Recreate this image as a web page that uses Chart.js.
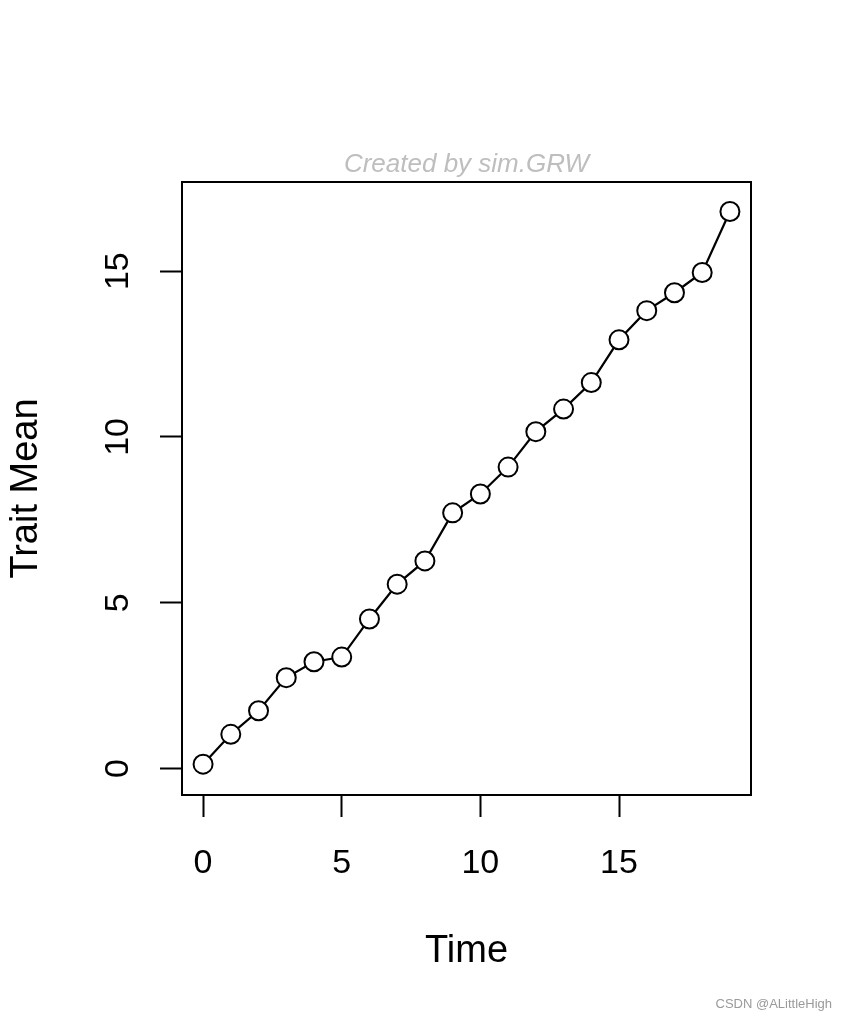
<!DOCTYPE html>
<html>
<head>
<meta charset="utf-8">
<script src="https://cdn.jsdelivr.net/npm/chart.js@4.4.0/dist/chart.umd.min.js"></script>
<style>
  html, body { margin: 0; padding: 0; background: #fff; }
  #wrap { width: 845px; height: 1022px; }
</style>
</head>
<body>
<div id="wrap"><canvas id="grwChart" width="845" height="1022"></canvas></div>
<script>
// time steps and simulated trait means
const timeSteps = [0, 1, 2, 3, 4, 5, 6, 7, 8, 9, 10, 11, 12, 13, 14, 15, 16, 17, 18, 19];
const traitMean = [0.13, 1.03, 1.74, 2.74, 3.22, 3.36, 4.51, 5.56, 6.26, 7.71,
                   8.28, 9.09, 10.16, 10.84, 11.64, 12.93, 13.81, 14.35, 14.96, 16.80];
const xTicks = [0, 5, 10, 15];
const yTicks = [0, 5, 10, 15];

const FONT = "'Liberation Sans', Arial, sans-serif";

// box around the plot, title over the box, rotated y labels (R style), watermark
const rBox = {
    id: 'rBox',
    afterDraw(chart) {
        const ctx = chart.ctx;
        const a = chart.chartArea;
        ctx.save();
        ctx.strokeStyle = '#000';
        ctx.lineWidth = 2;
        ctx.strokeRect(a.left, a.top, a.right - a.left, a.bottom - a.top);

        ctx.fillStyle = '#bebebe';
        ctx.font = 'italic 26px ' + FONT;
        ctx.textAlign = 'center';
        ctx.textBaseline = 'alphabetic';
        ctx.fillText('Created by sim.GRW', (a.left + a.right) / 2, 172);

        const ys = chart.scales.y;
        ctx.fillStyle = '#000';
        ctx.font = '34px ' + FONT;
        yTicks.forEach(function (v) {
            ctx.save();
            ctx.translate(128, ys.getPixelForValue(v));
            ctx.rotate(-Math.PI / 2);
            ctx.fillText(String(v), 0, 0);
            ctx.restore();
        });

        ctx.fillStyle = '#9a9a9a';
        ctx.font = '13px ' + FONT;
        ctx.textAlign = 'right';
        ctx.fillText('CSDN @ALittleHigh', 832, 1008);
        ctx.restore();
    }
};

var ctx = document.getElementById('grwChart').getContext('2d');
new Chart(ctx, {
    type: 'line',
    data: {
        datasets: [{
            data: timeSteps.map((t, i) => ({ x: t, y: traitMean[i] })),
            borderColor: '#000',
            borderWidth: 2.2,
            pointRadius: 9.5,
            pointBorderWidth: 2,
            pointBackgroundColor: '#fff',
            pointBorderColor: '#000',
            tension: 0
        }]
    },
    options: {
        responsive: false,
        animation: false,
        layout: { padding: { top: 182, right: 94, left: 0, bottom: 0 } },
        plugins: {
            legend: { display: false },
            tooltip: { enabled: false },
            title: { display: false }
        },
        scales: {
            x: {
                type: 'linear',
                min: -0.76,
                max: 19.76,
                afterFit: s => { s.height = 227; },
                afterBuildTicks: s => { s.ticks = xTicks.map(v => ({ value: v })); },
                grid: { drawOnChartArea: false, drawTicks: true, tickLength: 22, tickWidth: 2, tickColor: '#000' },
                border: { display: false },
                ticks: { color: '#000', padding: 26, font: { family: FONT, size: 34 }, maxRotation: 0 },
                title: {
                    display: true,
                    text: 'Time',
                    color: '#000',
                    font: { family: FONT, size: 38, lineHeight: 1.2 },
                    padding: { top: 0, bottom: 47.2 }
                }
            },
            y: {
                type: 'linear',
                min: -0.80,
                max: 17.69,
                afterFit: s => { s.width = 182; },
                afterBuildTicks: s => { s.ticks = yTicks.map(v => ({ value: v })); },
                grid: { drawOnChartArea: false, drawTicks: true, tickLength: 22, tickWidth: 2, tickColor: '#000' },
                border: { display: false },
                ticks: { display: false },
                title: {
                    display: true,
                    text: 'Trait Mean',
                    color: '#000',
                    font: { family: FONT, size: 38, lineHeight: 1.2 },
                    padding: { top: 4.2, bottom: 0 }
                }
            }
        }
    },
    plugins: [rBox]
});
</script>
</body>
</html>
